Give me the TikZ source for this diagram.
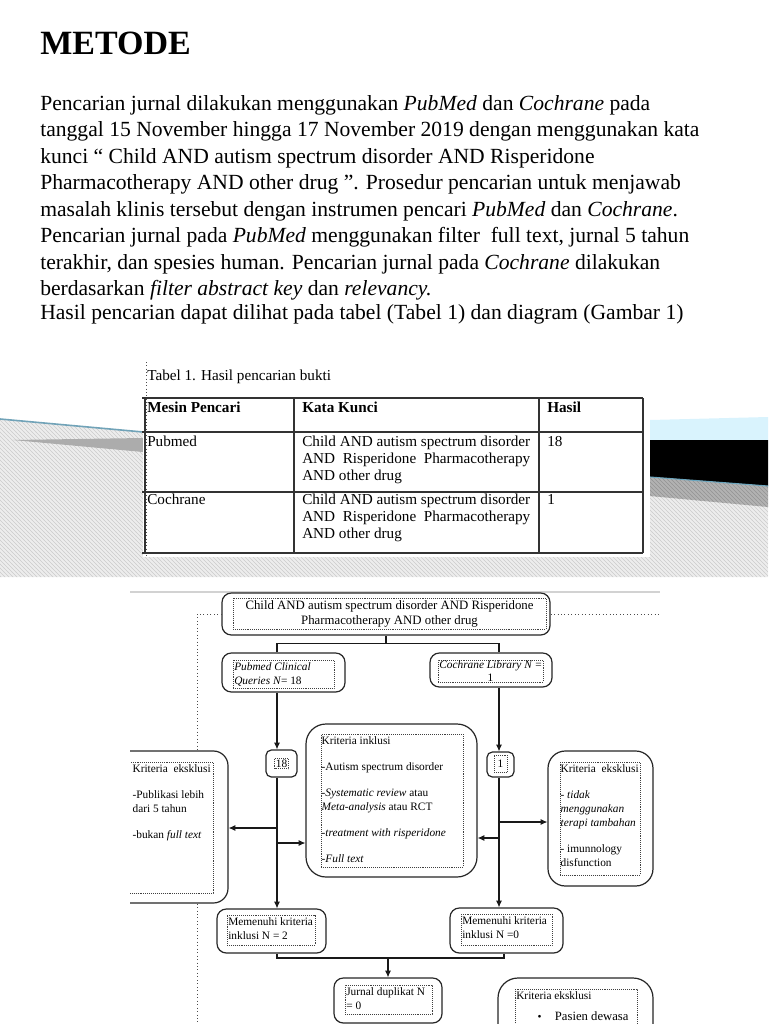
\documentclass[tikz,border=0pt]{standalone}
\usepackage{fontspec}
\setmainfont{Liberation Serif}
\usetikzlibrary{arrows.meta,fit,patterns,positioning}

\begin{document}
\begin{tikzpicture}[x=0.75pt,y=-0.75pt,
  body/.style={font=\fontsize{16.2}{19.5}\selectfont,inner sep=0pt,anchor=base west},
  cell/.style={font=\fontsize{11.4}{13.1}\selectfont,inner sep=0pt,anchor=base west},
  tline/.style={black!80,line width=1.1pt},
  rbox/.style={draw=black!85,line width=0.9pt,fill=white,rounded corners=7pt,inner sep=0pt},
  dbox/.style={draw=black!75,densely dotted,line width=0.45pt,inner sep=0pt},
  txt/.style={font=\fontsize{8.5}{10.5}\selectfont,inner sep=0pt,align=left},
  link/.style={black!90,line width=0.8pt},
  arr/.style={link,-{Latex[length=5pt,width=4.5pt]}},
  frame/.style={black!70,dotted,line width=0.6pt}]
  \useasboundingbox (0,0) rectangle (768,1024);
  \clip (0,0) rectangle (768,1024);

  \fill[gray!14] (0,419) -- (143,432) -- (650,470) -- (768,486) -- (768,577) -- (0,577) -- cycle;
  \fill[pattern=north west lines,pattern color=gray!40] (0,419) -- (143,432) -- (650,470) -- (768,486) -- (768,577) -- (0,577) -- cycle;
  \draw[cyan!40!gray,line width=1.2pt] (0,419) -- (143,432);
  \fill[gray!65] (13,440) -- (143,438) -- (143,452) -- cycle;
  \fill[cyan!15!white] (650,420) -- (768,417) -- (768,440) -- (650,440) -- cycle;
  \fill[black] (650,440) -- (768,440) -- (768,486) -- (650,477) -- cycle;
  \fill[gray!60] (650,477) -- (768,486) -- (768,507) -- (650,496) -- cycle;
  \fill[pattern=north west lines,pattern color=gray!85] (650,477) -- (768,486) -- (768,507) -- (650,496) -- cycle;
  \draw[cyan!45!gray,line width=0.8pt] (650,477) -- (768,486);

  \node[font=\fontsize{25.5}{30}\selectfont\bfseries,inner sep=0pt,anchor=base west] (title) at (40,55) {METODE};
  \node[body] (l1) at (40,110) {Pencarian jurnal dilakukan menggunakan \textit{PubMed} dan \textit{Cochrane} pada};
  \node[body] (l2) at (40,136.5) {tanggal 15 November hingga 17 November 2019 dengan menggunakan kata};
  \node[body] (l3) at (40,163) {kunci “ Child AND autism spectrum disorder AND Risperidone};
  \node[body] (l4) at (40,189.5) {Pharmacotherapy AND other drug ”. Prosedur pencarian untuk menjawab};
  \node[body] (l5) at (40,216) {masalah klinis tersebut dengan instrumen pencari \textit{PubMed} dan \textit{Cochrane}.};
  \node[body] (l6) at (40,242.5) {Pencarian jurnal pada \textit{PubMed} menggunakan filter\ \ full text, jurnal 5 tahun};
  \node[body] (l7) at (40,269) {terakhir, dan spesies human. Pencarian jurnal pada \textit{Cochrane} dilakukan};
  \node[body] (l8) at (40,295.5) {berdasarkan \textit{filter abstract key} dan \textit{relevancy.}};
  \node[body] (l9) at (40,319) {Hasil pencarian dapat dilihat pada tabel (Tabel 1) dan diagram (Gambar 1)};

  \fill[white] (143,358) rectangle (650,557);
  \draw[frame,line width=0.5pt] (146,362) -- (146,558);
  \node[cell] (caption) at (147,380) {Tabel 1. Hasil pencarian bukti};
  \foreach \y in {398,432,492,553}
    \draw[tline] (142,\y) -- (643,\y);
  \foreach \x in {145,294,539,643}
    \draw[tline] (\x,398) -- (\x,553);
  \node[cell] (hmesin) at (147,412) {\bfseries Mesin Pencari};
  \node[cell] (hkata) at (302,412) {\bfseries Kata Kunci};
  \node[cell] (hhasil) at (547,412) {\bfseries Hasil};
  \node[cell] (pubmed) at (147,446) {Pubmed};
  \node[cell] (kata1) at (302,446) {\parbox[t]{171pt}{\makebox[171pt][s]{Child AND autism spectrum disorder}\\\makebox[171pt][s]{AND Risperidone Pharmacotherapy}\\AND other drug}};
  \node[cell] (hasil1) at (547,446) {18};
  \node[cell] (cochrane) at (147,504) {Cochrane};
  \node[cell] (kata2) at (302,504) {\parbox[t]{171pt}{\makebox[171pt][s]{Child AND autism spectrum disorder}\\\makebox[171pt][s]{AND Risperidone Pharmacotherapy}\\AND other drug}};
  \node[cell] (hasil2) at (547,504) {1};

  \draw[gray!35,line width=1.5pt] (130,592) -- (660,592);

  \node[rbox,fit={(222,593) (550,635)}] (query) {};
  \node[dbox,fit={(233,598) (546,629)}] (queryin) {};
  \node[txt,align=center,font=\fontsize{9.6}{11.2}\selectfont] (querytxt) at (queryin.center) {Child AND autism spectrum disorder AND Risperidone\\Pharmacotherapy AND other drug};

  \node[rbox,fit={(222,653) (345,692)}] (pub) {};
  \node[dbox,fit={(233,660) (334,688)}] (pubin) {};
  \node[txt,below right=2pt and 1pt of pubin.north west] (pubtxt) {\textit{Pubmed Clinical}\\\textit{Queries N}=\ 18};

  \node[rbox,fit={(430,653) (552,687)}] (coch) {};
  \node[dbox,fit={(438,660) (543,682)}] (cochin) {};
  \node[txt,align=center,font=\fontsize{8.5}{9.5}\selectfont] (cochtxt) at (cochin.center) {\textit{Cochrane Library N} =\\1};

  \node[rbox,rounded corners=4pt,fit={(266,750) (297,777)}] (n18) {};
  \node[txt,dbox,inner sep=1pt] (n18txt) at (n18.center) {18};
  \node[rbox,rounded corners=4pt,fit={(487,752) (514,777)}] (n1) {};
  \node[dbox,fit={(494,755) (507,772)}] (n1in) {};
  \node[txt] (n1txt) at (n1in.center) {1};

  \begin{scope}
    \clip (130,0) rectangle (768,1024);
    \node[rbox,rounded corners=11pt,fit={(110,751) (228,903)}] (exl) {};
    \node[dbox,fit={(126,762) (213,893)}] (exlin) {};
  \end{scope}
  \node[txt,below right=2pt and 5pt of exlin.north west] (exltxt) {Kriteria\ \ eksklusi\\[9pt]-Publikasi lebih\\dari 5 tahun\\[9pt]-bukan\ \textit{full text}};

  \node[rbox,rounded corners=15pt,fit={(306,724) (477,877)}] (inc) {};
  \node[dbox,fit={(321,734) (463,867)}] (incin) {};
  \node[txt,below right=2pt and 0.5pt of incin.north west] (inctxt) {Kriteria\ inklusi\\[9pt]-Autism spectrum disorder\\[9pt]-\textit{Systematic review} atau\\\textit{Meta-analysis} atau RCT\\[9pt]-\textit{treatment with risperidone}\\[9pt]-\textit{Full text}};

  \node[rbox,rounded corners=13pt,fit={(548,751) (653,886)}] (exr) {};
  \node[dbox,fit={(560,762) (640,875)}] (exrin) {};
  \node[txt,below right=2pt and 0.5pt of exrin.north west] (exrtxt) {Kriteria\ \ eksklusi\\[9pt]- \textit{tidak}\\\textit{menggunakan}\\\textit{terapi tambahan}\\[9pt]- imunnology\\disfunction};

  \node[rbox,fit={(217,909) (326,953)}] (meml) {};
  \node[dbox,fit={(227,915) (315,945)}] (memlin) {};
  \node[txt,below right=2pt and 1pt of memlin.north west] (memltxt) {Memenuhi kriteria\\inklusi N = 2};
  \node[rbox,fit={(450,908) (563,953)}] (memr) {};
  \node[dbox,fit={(461,914) (552,945)}] (memrin) {};
  \node[txt,below right=2pt and 1pt of memrin.north west] (memrtxt) {Memenuhi kriteria\\inklusi N =0};

  \node[rbox,fit={(334,978) (442,1023)}] (jur) {};
  \node[dbox,fit={(345,985) (432,1014)}] (jurin) {};
  \node[txt,below right=2pt and 1pt of jurin.north west] (jurtxt) {Jurnal duplikat N\\= 0};

  \node[rbox,rounded corners=15pt,fit={(498,978) (653,1070)}] (exb) {};
  \node[dbox,fit={(515,989) (637,1070)}] (exbin) {};
  \node[txt,below right=2pt and 1pt of exbin.north west] (exbtxt) {Kriteria\ eksklusi\\[5pt]\hspace*{16pt}\textbullet\hspace{10pt}\fontsize{9.5}{11}\selectfont Pasien dewasa};

  \coordinate (lx) at (277,0);
  \coordinate (rx) at (499,0);
  \coordinate (mx) at (504,0);
  \coordinate (fx) at (197,1024);

  \draw[frame] (query.west) -| (fx |- exl.north);
  \draw[frame] (fx |- exl.south) -- (fx);
  \draw[frame] (query.east) -- (660,614);

  \draw[link] (query.south) -- ++(0,8) coordinate (qsplit);
  \draw[link] (lx |- pub.north) |- (qsplit) -| (rx |- coch.north);
  \draw[arr] (lx |- pub.south) -- (lx |- n18.north);
  \draw[arr] (lx |- n18.south) -- (lx |- meml.north);
  \draw[arr] (lx |- 0,828) -- (exl.east |- 0,828);
  \draw[arr] (lx |- 0,843) -- (inc.west |- 0,843);
  \draw[arr] (rx |- coch.south) -- (rx |- n1.north);
  \draw[arr] (rx |- n1.south) -- (rx |- memr.north);
  \draw[arr] (rx |- 0,822) -- (exr.west |- 0,822);
  \draw[arr] (rx |- 0,838) -- (inc.east |- 0,838);
  \draw[link] (lx |- meml.south) -- (lx |- 0,958) -| (mx |- memr.south);
  \draw[arr] (jur.north |- 0,958) -- (jur.north);
  \draw[link] (jur.south) -- ++(0,10);
\end{tikzpicture}
\end{document}
